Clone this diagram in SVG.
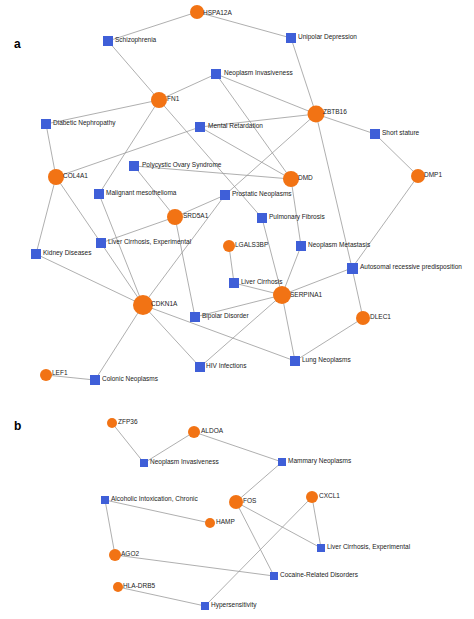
<svg xmlns="http://www.w3.org/2000/svg" width="474" height="619" viewBox="0 0 474 619">
<style>
.e{stroke:#9a9a9a;stroke-width:0.8;fill:none}
.g{fill:#F27314}
.d{fill:#3F5FD8}
text{font-family:"Liberation Sans",Arial,sans-serif;font-size:6.5px;fill:#222}
.p{font-size:12px;font-weight:bold;fill:#000}
</style>
<rect width="474" height="619" fill="#fff"/>
<text class="p" x="14" y="48">a</text>
<text class="p" x="14" y="430">b</text>
<g id="connectors">
<line class="e" x1="197" y1="12" x2="108" y2="41"/>
<line class="e" x1="197" y1="12" x2="291" y2="38"/>
<line class="e" x1="291" y1="38" x2="316" y2="114"/>
<line class="e" x1="108" y1="41" x2="159" y2="100"/>
<line class="e" x1="159" y1="100" x2="216" y2="74"/>
<line class="e" x1="159" y1="100" x2="46" y2="124"/>
<line class="e" x1="159" y1="100" x2="99" y2="194"/>
<line class="e" x1="159" y1="100" x2="262" y2="218"/>
<line class="e" x1="46" y1="124" x2="56" y2="177"/>
<line class="e" x1="216" y1="74" x2="316" y2="114"/>
<line class="e" x1="216" y1="74" x2="291" y2="179"/>
<line class="e" x1="200" y1="127" x2="316" y2="114"/>
<line class="e" x1="200" y1="127" x2="291" y2="179"/>
<line class="e" x1="200" y1="127" x2="56" y2="177"/>
<line class="e" x1="316" y1="114" x2="375" y2="134"/>
<line class="e" x1="375" y1="134" x2="418" y2="176"/>
<line class="e" x1="316" y1="114" x2="225" y2="195"/>
<line class="e" x1="316" y1="114" x2="352" y2="268"/>
<line class="e" x1="352" y1="268" x2="363" y2="318"/>
<line class="e" x1="418" y1="176" x2="352" y2="268"/>
<line class="e" x1="134" y1="166" x2="291" y2="179"/>
<line class="e" x1="134" y1="166" x2="175" y2="217"/>
<line class="e" x1="291" y1="179" x2="301" y2="246"/>
<line class="e" x1="301" y1="246" x2="282" y2="295"/>
<line class="e" x1="56" y1="177" x2="36" y2="254"/>
<line class="e" x1="56" y1="177" x2="101" y2="243"/>
<line class="e" x1="36" y1="254" x2="143" y2="305"/>
<line class="e" x1="101" y1="243" x2="175" y2="217"/>
<line class="e" x1="101" y1="243" x2="143" y2="305"/>
<line class="e" x1="99" y1="194" x2="143" y2="305"/>
<line class="e" x1="225" y1="195" x2="175" y2="217"/>
<line class="e" x1="225" y1="195" x2="143" y2="305"/>
<line class="e" x1="175" y1="217" x2="195" y2="317"/>
<line class="e" x1="262" y1="218" x2="282" y2="295"/>
<line class="e" x1="229" y1="246" x2="234" y2="283"/>
<line class="e" x1="234" y1="283" x2="282" y2="295"/>
<line class="e" x1="282" y1="295" x2="352" y2="268"/>
<line class="e" x1="282" y1="295" x2="195" y2="317"/>
<line class="e" x1="282" y1="295" x2="200" y2="367"/>
<line class="e" x1="282" y1="295" x2="295" y2="361"/>
<line class="e" x1="143" y1="305" x2="200" y2="367"/>
<line class="e" x1="143" y1="305" x2="295" y2="361"/>
<line class="e" x1="143" y1="305" x2="95" y2="380"/>
<line class="e" x1="363" y1="318" x2="295" y2="361"/>
<line class="e" x1="46" y1="375" x2="95" y2="380"/>
<line class="e" x1="112" y1="423" x2="144" y2="463"/>
<line class="e" x1="194" y1="432" x2="144" y2="463"/>
<line class="e" x1="194" y1="432" x2="282" y2="462"/>
<line class="e" x1="282" y1="462" x2="236" y2="502"/>
<line class="e" x1="105" y1="500" x2="210" y2="523"/>
<line class="e" x1="105" y1="500" x2="115" y2="555"/>
<line class="e" x1="236" y1="502" x2="321" y2="548"/>
<line class="e" x1="236" y1="502" x2="274" y2="576"/>
<line class="e" x1="312" y1="497" x2="321" y2="548"/>
<line class="e" x1="312" y1="497" x2="205" y2="606"/>
<line class="e" x1="115" y1="555" x2="274" y2="576"/>
<line class="e" x1="118" y1="587" x2="205" y2="606"/>
</g>
<g id="HSPA12A"><circle class="g" cx="197" cy="12" r="7"/><text x="203" y="15">HSPA12A</text></g>
<g id="Schizophrenia"><rect class="d" x="103" y="36" width="10" height="10"/><text x="115" y="42">Schizophrenia</text></g>
<g id="UnipolarDepression"><rect class="d" x="286" y="33" width="10" height="10"/><text x="298" y="39">Unipolar Depression</text></g>
<g id="FN1"><circle class="g" cx="159" cy="100" r="8"/><text x="167" y="101">FN1</text></g>
<g id="NeoplasmInvasiveness"><rect class="d" x="211" y="69" width="10" height="10"/><text x="224" y="75">Neoplasm Invasiveness</text></g>
<g id="ZBTB16"><circle class="g" cx="316" cy="114" r="8.5"/><text x="323" y="114">ZBTB16</text></g>
<g id="ShortStature"><rect class="d" x="370" y="129" width="10" height="10"/><text x="382" y="135">Short stature</text></g>
<g id="DiabeticNephropathy"><rect class="d" x="41" y="119" width="10" height="10"/><text x="53" y="125">Diabetic Nephropathy</text></g>
<g id="MentalRetardation"><rect class="d" x="195" y="122" width="10" height="10"/><text x="208" y="128">Mental Retardation</text></g>
<g id="COL4A1"><circle class="g" cx="56" cy="177" r="8"/><text x="63" y="178">COL4A1</text></g>
<g id="PolycysticOvarySyndrome"><rect class="d" x="129" y="161" width="10" height="10"/><text x="142" y="167">Polycystic Ovary Syndrome</text></g>
<g id="DMD"><circle class="g" cx="291" cy="179" r="8"/><text x="298" y="180">DMD</text></g>
<g id="DMP1"><circle class="g" cx="418" cy="176" r="7"/><text x="424" y="177">DMP1</text></g>
<g id="MalignantMesothelioma"><rect class="d" x="94" y="189" width="10" height="10"/><text x="106" y="195">Malignant mesothelioma</text></g>
<g id="ProstaticNeoplasms"><rect class="d" x="220" y="190" width="10" height="10"/><text x="232" y="196">Prostatic Neoplasms</text></g>
<g id="SRD5A1"><circle class="g" cx="175" cy="217" r="8"/><text x="183" y="218">SRD5A1</text></g>
<g id="PulmonaryFibrosis"><rect class="d" x="257" y="213" width="10" height="10"/><text x="269" y="219">Pulmonary Fibrosis</text></g>
<g id="LiverCirrhosisExperimental"><rect class="d" x="96" y="238" width="10" height="10"/><text x="108" y="244">Liver Cirrhosis, Experimental</text></g>
<g id="LGALS3BP"><circle class="g" cx="229" cy="246" r="6"/><text x="235" y="247">LGALS3BP</text></g>
<g id="KidneyDiseases"><rect class="d" x="31" y="249" width="10" height="10"/><text x="43" y="255">Kidney Diseases</text></g>
<g id="NeoplasmMetastasis"><rect class="d" x="296" y="241" width="10" height="10"/><text x="308" y="247">Neoplasm Metastasis</text></g>
<g id="AutosomalRecessivePredisposition"><rect class="d" x="347" y="263" width="11" height="11"/><text x="360" y="269">Autosomal recessive predisposition</text></g>
<g id="LiverCirrhosis"><rect class="d" x="229" y="278" width="10" height="10"/><text x="241" y="284">Liver Cirrhosis</text></g>
<g id="SERPINA1"><circle class="g" cx="282" cy="295" r="9"/><text x="290" y="297">SERPINA1</text></g>
<g id="CDKN1A"><circle class="g" cx="143" cy="305" r="10"/><text x="151" y="306">CDKN1A</text></g>
<g id="BipolarDisorder"><rect class="d" x="190" y="312" width="10" height="10"/><text x="202" y="318">Bipolar Disorder</text></g>
<g id="DLEC1"><circle class="g" cx="363" cy="318" r="7"/><text x="370" y="319">DLEC1</text></g>
<g id="HIVInfections"><rect class="d" x="195" y="362" width="10" height="10"/><text x="206" y="368">HIV Infections</text></g>
<g id="LungNeoplasms"><rect class="d" x="290" y="356" width="10" height="10"/><text x="302" y="362">Lung Neoplasms</text></g>
<g id="LEF1"><circle class="g" cx="46" cy="375" r="6"/><text x="52" y="375">LEF1</text></g>
<g id="ColonicNeoplasms"><rect class="d" x="90" y="375" width="10" height="10"/><text x="102" y="381">Colonic Neoplasms</text></g>
<g id="b_ZFP36"><circle class="g" cx="112" cy="423" r="5"/><text x="118" y="424">ZFP36</text></g>
<g id="b_ALDOA"><circle class="g" cx="194" cy="432" r="6"/><text x="201" y="433">ALDOA</text></g>
<g id="b_NeoplasmInvasiveness"><rect class="d" x="140" y="459" width="8" height="8"/><text x="150" y="464">Neoplasm Invasiveness</text></g>
<g id="b_MammaryNeoplasms"><rect class="d" x="278" y="458" width="8" height="8"/><text x="288" y="463">Mammary Neoplasms</text></g>
<g id="b_AlcoholicIntoxication"><rect class="d" x="101" y="496" width="8" height="8"/><text x="111" y="501">Alcoholic Intoxication, Chronic</text></g>
<g id="b_FOS"><circle class="g" cx="236" cy="502" r="7"/><text x="243" y="503">FOS</text></g>
<g id="b_CXCL1"><circle class="g" cx="312" cy="497" r="6"/><text x="319" y="498">CXCL1</text></g>
<g id="b_HAMP"><circle class="g" cx="210" cy="523" r="5"/><text x="216" y="524">HAMP</text></g>
<g id="b_LiverCirrhosisExperimental"><rect class="d" x="317" y="544" width="8" height="8"/><text x="327" y="549">Liver Cirrhosis, Experimental</text></g>
<g id="b_AGO2"><circle class="g" cx="115" cy="555" r="6"/><text x="121" y="556">AGO2</text></g>
<g id="b_CocaineRelatedDisorders"><rect class="d" x="270" y="572" width="8" height="8"/><text x="280" y="577">Cocaine-Related Disorders</text></g>
<g id="b_HLADRB5"><circle class="g" cx="118" cy="587" r="5"/><text x="123" y="588">HLA-DRB5</text></g>
<g id="b_Hypersensitivity"><rect class="d" x="201" y="602" width="8" height="8"/><text x="211" y="607">Hypersensitivity</text></g>
</svg>
